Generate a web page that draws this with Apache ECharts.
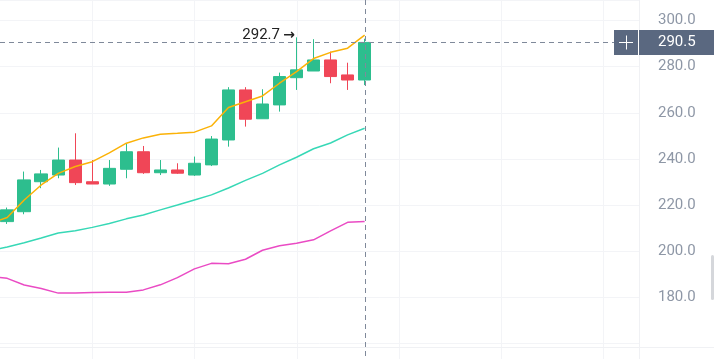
<!DOCTYPE html>
<html><head><meta charset="utf-8">
<script src="https://cdn.jsdelivr.net/npm/echarts@6/dist/echarts.min.js"></script>
<style>html,body{margin:0;padding:0;background:#fff}#c{width:714px;height:359px}</style>
</head><body><div id="c"></div>
<script>
// candle index (x position) and OHLC values
const candleIdx = [0,1,2,3,4,5,6,7,8,9,10,11,12,13,14,15,16,17,18,19,20,21];
const opens  = [212.8,217.1,230.1,233.0,239.5,230.1,229.1,235.5,243.1,234.0,235.2,233.0,237.4,248.2,269.9,257.4,263.4,275.2,278.1,282.9,276.4,274.2];
const closes = [217.9,230.9,233.5,239.5,229.7,229.1,235.9,243.1,234.0,235.2,233.8,238.1,248.6,269.9,257.2,263.8,275.7,278.6,282.9,275.7,274.2,290.5];
const lows   = [211.8,216.0,227.3,231.6,228.7,229.1,228.3,231.6,233.5,233.0,233.5,232.6,236.9,245.3,254.0,257.4,260.5,269.9,278.1,272.8,269.9,272.0];
const highs  = [218.9,234.5,235.2,244.9,251.1,239.5,239.5,246.8,245.6,239.5,238.1,241.0,249.9,271.1,271.1,270.2,277.4,292.7,291.9,286.5,281.7,292.1];
// moving average lines (index -1 lies off the left edge)
const maIdx = [-1,0,1,2,3,4,5,6,7,8,9,10,11,12,13,14,15,16,17,18,19,20,21];
const maShort = [212.0,214.6,222.2,228.7,233.7,236.7,238.8,242.6,246.8,249.1,250.7,251.1,251.6,254.3,262.3,264.8,267.3,272.8,277.8,283.5,286.2,288.0,293.7];
const maMid   = [200.3,201.8,203.6,205.7,207.9,208.8,210.3,212.0,214.0,215.7,217.9,220.0,222.2,224.4,227.4,230.7,233.7,237.4,240.7,244.4,246.9,250.4,253.3];
const maLong  = [189.2,188.2,185.3,183.8,181.8,181.8,182.1,182.2,182.2,183.2,185.4,188.5,192.3,194.7,194.5,196.5,200.4,202.3,203.4,204.9,208.8,212.5,212.9];
const yLabelValues = [180,200,220,240,260,280,300];
const lastPrice = 290.5;
const maxHigh = 292.7, maxHighIdx = 17;
const splitIdx = [5,11,17,23,29,35];

const UP = '#2DBE8E', DOWN = '#F04657';
const chart = echarts.init(document.getElementById('c'), null, {renderer:'canvas'});
const candleData = candleIdx.map((x,i)=>[x, opens[i], closes[i], lows[i], highs[i]]);
const pair = arr => maIdx.map((x,i)=>[x, arr[i]]);

chart.setOption({
  animation:false,
  backgroundColor:'#fff',
  grid:{left:0, right:75, top:0, bottom:15.6, containLabel:false},
  xAxis:{type:'value', min:-0.423, max:37.12, show:false, splitLine:{show:false}},
  yAxis:{type:'value', position:'right', min:160, max:308.89, interval:20, scale:true,
    axisLine:{show:false}, axisTick:{show:false},
    splitLine:{lineStyle:{color:'#F3F4F7', width:1}},
    axisLabel:{margin:19, color:'#8E97A6', fontSize:15, fontFamily:'Roboto',
      formatter:v=> yLabelValues.some(t=>Math.abs(t-v)<1e-6) ? v.toFixed(1) : ''}
  },
  series:[
    {type:'candlestick', data:candleData, encode:{x:0,y:[1,2,3,4]}, barWidth:13,
      itemStyle:{color:UP, color0:DOWN, borderColor:UP, borderColor0:DOWN, borderWidth:1},
      markPoint:{symbol:'circle', symbolSize:1, itemStyle:{color:'rgba(0,0,0,0)'},
        label:{show:true, position:'left', distance:1, offset:[0,-2], color:'#222',
          formatter:()=>'{t|'+maxHigh.toFixed(1)+'} {a|→}',
          rich:{t:{fontSize:15, fontFamily:'Roboto', color:'#222'}, a:{fontSize:14, fontFamily:'DejaVu Sans', fontWeight:'bold', color:'#222'}}},
        data:[{coord:[maxHighIdx, maxHigh]}]}
    },
    {type:'line', data:pair(maShort), showSymbol:false, lineStyle:{color:'#FBB207', width:1.5}, z:3},
    {type:'line', data:pair(maMid), showSymbol:false, lineStyle:{color:'#37D8B6', width:1.5}, z:3},
    {type:'line', data:pair(maLong), showSymbol:false, lineStyle:{color:'#EA4BC4', width:1.5}, z:3}
  ]
});

const py = Math.round(chart.convertToPixel({yAxisIndex:0}, lastPrice)) + 0.5;
const px = Math.round(chart.convertToPixel({xAxisIndex:0}, candleIdx[candleIdx.length-1])) + 0.5;
const gRight = 639;
const els = [];
splitIdx.forEach(s=>{
  const x = Math.round(chart.convertToPixel({xAxisIndex:0}, s)) + 0.5;
  els.push({type:'line', z:-1, silent:true, shape:{x1:x,y1:0,x2:x,y2:359}, style:{stroke:'#F3F4F7', lineWidth:1}});
});
els.push({type:'line', z:-1, silent:true, shape:{x1:gRight+0.5,y1:0,x2:gRight+0.5,y2:359}, style:{stroke:'#F0F1F4', lineWidth:1}});
els.push({type:'line', z:-1, silent:true, shape:{x1:0,y1:347.5,x2:714,y2:347.5}, style:{stroke:'#F0F1F4', lineWidth:1}});
els.push({type:'line', z:50, silent:true, shape:{x1:px,y1:0,x2:px,y2:359}, style:{stroke:'#7F899A', lineWidth:1, lineDash:[5,4]}});
els.push({type:'line', z:50, silent:true, shape:{x1:0,y1:py,x2:614,y2:py}, style:{stroke:'#7F899A', lineWidth:1, lineDash:[5,4]}});
els.push({type:'rect', z:51, shape:{x:614, y:py-12.5, width:24, height:25}, style:{fill:'#5A6880'}});
els.push({type:'line', z:52, shape:{x1:619,y1:py,x2:633,y2:py}, style:{stroke:'#fff', lineWidth:1}});
els.push({type:'line', z:52, shape:{x1:626.5,y1:py-7,x2:626.5,y2:py+7}, style:{stroke:'#fff', lineWidth:1}});
els.push({type:'rect', z:51, shape:{x:639, y:py-12.5, width:75, height:25}, style:{fill:'#5A6880'}});
els.push({type:'text', z:52, x:658, y:py, style:{text:lastPrice.toFixed(1), fill:'#fff', font:'15px Roboto', verticalAlign:'middle', align:'left'}});
els.push({type:'rect', z:51, shape:{x:711, y:255, width:3, height:45, r:1.5}, style:{fill:'#D5D7DB'}});
chart.setOption({graphic:els});
</script>
</body></html>
